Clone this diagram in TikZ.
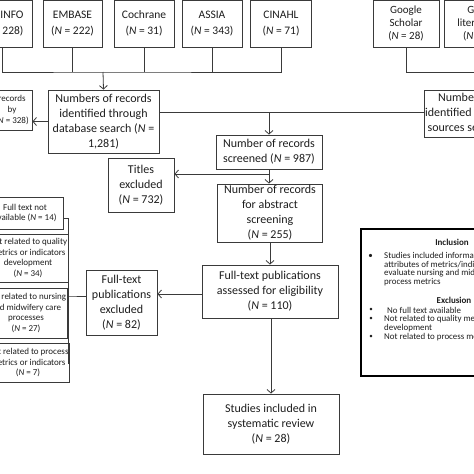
\documentclass[tikz,border=0pt]{standalone}
\usepackage{fontspec}
\setmainfont{Carlito}
\usetikzlibrary{arrows.meta}
\newcommand{\Nv}{\textit{N}}
\definecolor{linec}{HTML}{3A3A3A}
\definecolor{txt}{HTML}{1E1E1E}
\begin{document}
\begin{tikzpicture}[x=1pt,y=-1pt,
  box/.style={draw=linec, line width=0.9pt, align=center, inner sep=1pt, text=txt,
    font=\fontsize{12}{15}\selectfont},
  tbox/.style={box, font=\fontsize{11.5}{16}\selectfont},
  gbox/.style={box, font=\fontsize{11}{13}\selectfont},
  sbox/.style={box, font=\fontsize{9}{10.7}\selectfont},
  plain/.style={inner sep=0pt, text=txt, font=\fontsize{8.9}{8.7}\selectfont, align=left},
  arr/.style={draw=linec, line width=0.8pt, -{Straight Barb[length=3.5pt,width=8pt]}},
  ln/.style={draw=linec, line width=0.8pt}]
\useasboundingbox (0,0) rectangle (474,474);
\clip (0,0) rectangle (474,474);
\fill[white] (0,0) rectangle (474,474);
% named helper coordinates
\coordinate (bus) at (103,72);
\coordinate (gbus) at (406,72);
\coordinate (y112) at (0,112);
\coordinate (y174) at (0,174);
\coordinate (y294) at (0,294);
\coordinate (y296) at (0,296);
% top database boxes
\node[tbox, minimum width=60, minimum height=47] (psyc) at (2,23.5) {PsycINFO\\(\Nv{} = 228)};
\node[tbox, minimum width=59, minimum height=47] (embase) at (72.5,23.5) {EMBASE\\(\Nv{} = 222)};
\node[tbox, minimum width=60, minimum height=47] (cochrane) at (144,23.5) {Cochrane\\(\Nv{} = 31)};
\node[tbox, minimum width=60, minimum height=47] (assia) at (212,23.5) {ASSIA\\(\Nv{} = 343)};
\node[tbox, minimum width=61, minimum height=47] (cinahl) at (281,23.5) {CINAHL\\(\Nv{} = 71)};
\node[gbox, minimum width=66, minimum height=47] (google) at (406,23.5) {Google\\Scholar\\(\Nv{} = 28)};
\node[gbox, minimum width=68, minimum height=47] (grey) at (478,23.5) {Grey\\literature\\(\Nv{} = 6)};
% bus lines
\draw[ln] (psyc.south) |- (bus) -| (cinahl.south);
\draw[ln] (embase.south) -- (embase.south |- bus);
\draw[ln] (cochrane.south) -- (cochrane.south |- bus);
\draw[ln] (assia.south) -- (assia.south |- bus);
\draw[ln] (google.south) |- (gbus) -| (grey.south);
% identification
\node[box, minimum width=111, minimum height=63] (db) at (103.5,121.5)
  {Numbers of records\\identified through\\database search (\Nv{} =\\1,281)};
\node[sbox, minimum width=40, minimum height=40] (dup) at (12,110) {records\\by\\(\Nv{} = 328)};
\node[box, minimum width=118, minimum height=47] (other) at (484,113.5)
  {Number of records\\identified through other\\sources search (\Nv{} = 34)};
\draw[arr] (bus) -- (db.north);
\draw[arr] (db.west) -- (dup.east |- db.west);
\draw[ln] (db.east |- y112) -- (other.west |- y112);
\draw[arr] (grey.south |- gbus) -- (other.north);
% screening
\node[box, minimum width=106, minimum height=34] (screened) at (269,152)
  {Number of records\\screened (\Nv{} = 987)};
\draw[arr] (screened.north |- y112) -- (screened.north);
\node[box, minimum width=66, minimum height=54] (titles) at (141,185)
  {Titles\\excluded\\(\Nv{} = 732)};
\node[box, minimum width=105, minimum height=58] (abstract) at (270,213)
  {Number of records\\for abstract\\screening\\(\Nv{} = 255)};
\draw[arr] (screened.south) -- (screened.south |- abstract.north);
\draw[arr] (screened.south |- y174) -- (titles.east |- y174);
% eligibility
\node[box, minimum width=136, minimum height=53] (fulltext) at (270,291.5)
  {Full-text publications\\assessed for eligibility\\(\Nv{} = 110)};
\draw[arr] (abstract.south) -- (fulltext.north);
\node[box, minimum width=71, minimum height=65] (excl) at (121.5,302.5)
  {Full-text\\publications\\excluded\\(\Nv{} = 82)};
\draw[arr] (fulltext.west |- y294) -- (excl.east |- y294);
% reasons
\node[sbox, minimum width=76, minimum height=32] (r1) at (25,213) {Full text not\\available (\Nv{} = 14)};
\node[sbox, minimum width=72, minimum height=48] (r2) at (28,258) {Not related to quality\\metrics or indicators\\development\\(\Nv{} = 34)};
\node[sbox, minimum width=72, minimum height=50] (r3) at (26,313) {Not related to nursing\\and midwifery care\\processes\\(\Nv{} = 27)};
\node[sbox, minimum width=72, minimum height=39] (r4) at (28,362.5) {Not related to process\\metrics or indicators\\(\Nv{} = 7)};
\coordinate (brT) at (68,218);
\coordinate (brB) at (68,363);
\draw[ln] (r1.east |- brT) -- (brT) -- (brB) -- (r4.east |- brB);
\draw[ln] (r2.east |- 0,261) -- (68,261);
\draw[ln] (r3.east |- y296) -- (brT |- y296) -- (excl.west |- y296);
% included
\node[box, minimum width=136, minimum height=60] (incl) at (271,424)
  {Studies included in\\systematic review\\(\Nv{} = 28)};
\draw[arr] (fulltext.south -| incl.north) -- (incl.north);
% criteria box
\node[draw=black, line width=1.7pt, minimum width=200, minimum height=147, inner sep=0pt] (crit) at (461,302.5) {};
\node[plain, font=\fontsize{9}{9}\selectfont\bfseries] (inh) at (452,242) {Inclusion};
\node[plain, font=\fontsize{9}{9}\selectfont] (ib1) at (370.5,256) {\textbullet};
\node[plain, anchor=north west] (it1) at (384,252)
  {Studies included information on\\attributes of metrics/indicators to\\evaluate nursing and midwifery care\\process metrics};
\node[plain, font=\fontsize{9}{9}\selectfont\bfseries] (exh) at (454,300) {Exclusion};
\node[plain, font=\fontsize{7}{8}\selectfont] (eb1) at (371,310) {\textbullet};
\node[plain, font=\fontsize{7}{8}\selectfont] (eb2) at (371,319) {\textbullet};
\node[plain, font=\fontsize{7}{8}\selectfont] (eb3) at (371,337) {\textbullet};
\node[plain, anchor=west] (et1) at (387,310) {No full text available};
\node[plain, anchor=north west] (et2) at (384,315.5) {Not related to quality metrics or indicators\\development};
\node[plain, anchor=west] (et3) at (384,337) {Not related to process metrics or indicators};
\end{tikzpicture}
\end{document}
